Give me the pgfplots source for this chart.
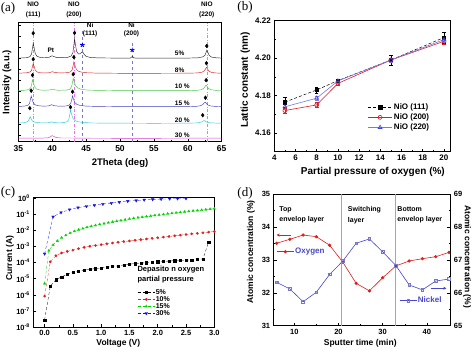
\documentclass[border=0pt]{standalone}
\usepackage{fontspec}
\setmainfont{Liberation Sans}
\newfontfamily\seriffont{Liberation Serif}
\usepackage{pgfplots}
\pgfplotsset{compat=1.18}
\usetikzlibrary{arrows.meta}
\definecolor{cMag}{RGB}{230,120,230}
\definecolor{cNi}{RGB}{120,120,200}
\definecolor{tBlack}{RGB}{40,40,40}
\definecolor{tRed}{RGB}{220,30,30}
\definecolor{tGreen}{RGB}{70,200,70}
\definecolor{tBlue}{RGB}{60,60,190}
\definecolor{tCyan}{RGB}{40,200,215}
\definecolor{tMag}{RGB}{215,60,215}
\definecolor{cGreen}{RGB}{0,210,0}
\definecolor{cBlue}{RGB}{20,20,220}
\definecolor{lav}{RGB}{120,120,230}
\definecolor{niBlue}{RGB}{70,70,200}
\newcommand\fsz[2]{\bfseries\fontsize{#1}{#2}\selectfont}
\pgfplotsset{
  base/.style={scale only axis, anchor=south west, tick align=inside,
    /pgf/number format/assume math mode=true,
    axis line style={line width=0.6pt}, major tick length=3pt, minor tick length=1.6pt,
    every tick/.style={black, line width=0.5pt}, legend cell align=left, clip=false},
}
\begin{document}
\begin{tikzpicture}[x=1pt,y=1pt]
\path[use as bounding box] (0,0) rectangle (474,350);
\node[font=\seriffont\fontsize{13}{13}\selectfont] at (8,342) {(a)};
\node[font=\seriffont\fontsize{13}{13}\selectfont] at (245,343) {(b)};
\node[font=\seriffont\fontsize{13}{13}\selectfont] at (8,158) {(c)};
\node[font=\seriffont\fontsize{13}{13}\selectfont] at (245,157) {(d)};

% ---------------- (a) ----------------
\begin{axis}[base, at={(18.3pt,208.3pt)}, width=203.4pt, height=119pt,
  xmin=35, xmax=65, ymin=0, ymax=119,
  xtick={35,40,...,65}, minor x tick num=1, xtick pos=left, ytick pos=left,
  ytick={6.7,17.7,28.7,39.7,50.7,61.7,72.7,83.7,94.7,105.7,116.7}, yticklabel={\mbox{}},
  tick label style={font=\fsz{8.5}{9}},
  label style={font=\fsz{9.5}{10}},
  xlabel={2Theta (deg)}, ylabel={Intensity (a.u.)},
  xlabel style={at={(axis description cs:0.5,-0.179)}, anchor=center},
  ylabel style={at={(axis description cs:-0.0556,0.5)}, anchor=center}]
% reference lines
\addplot[cMag, dash dot, line width=0.5pt] coordinates {(37.2,0) (37.2,119)};
\addplot[cMag, dash dot, line width=0.5pt] coordinates {(43.2,0) (43.2,119)};
\addplot[cMag, dash dot, line width=0.5pt] coordinates {(62.8,0) (62.8,119)};
\addplot[cNi, dashed, line width=0.5pt] coordinates {(44.45,0) (44.45,112)};
\addplot[cNi, dashed, line width=0.5pt] coordinates {(51.8,0) (51.8,100)};
% 5%
\addplot[tBlack, line width=0.45pt] coordinates {(35,83.6) (35.8,83.8) (36.2,84.0) (36.7,84.9) (36.95,87.6) (37.1,93.9) (37.2,98.4) (37.32,94.4) (37.5,88.2) (37.75,85.5) (38.2,84.3) (38.8,83.9) (39.5,84.2) (39.8,85.4) (40.0,85.9) (40.3,85.0) (40.7,84.1) (41.5,84.0) (42.3,84.4) (42.8,85.7) (43.05,88.9) (43.2,96.9) (43.3,102.9) (43.42,97.4) (43.6,90.4) (43.85,87.9) (44.1,87.9) (44.35,89.4) (44.5,89.7) (44.7,87.4) (45.0,85.4) (45.5,84.4) (46.5,83.9) (48,83.7) (50,83.6) (51.5,83.6) (51.7,84.6) (51.85,85.3) (52.0,83.9) (52.3,83.6) (55,83.5) (58,83.5) (60,83.6) (61.5,83.9) (62.2,84.8) (62.55,86.6) (62.7,89.4) (62.8,91.4) (62.95,89.4) (63.15,86.4) (63.5,84.6) (64.2,83.9) (65,83.6)};
% 8%
\addplot[tRed, line width=0.45pt] coordinates {(35,68.5) (36.2,68.9) (36.7,69.6) (36.95,71.2) (37.1,75.4) (37.2,78.4) (37.32,75.8) (37.5,71.6) (37.75,69.8) (38.2,69.0) (38.8,68.7) (39.6,69.0) (40.0,70.0) (40.4,69.2) (41.0,68.8) (42.2,69.0) (42.7,69.8) (42.95,72.0) (43.1,76.5) (43.2,79.9) (43.33,76.8) (43.55,72.5) (43.85,70.5) (44.3,69.6) (45.0,69.0) (46.5,68.6) (50,68.4) (55,68.4) (60,68.5) (61.5,68.8) (62.1,69.5) (62.45,71.0) (62.62,72.8) (62.75,74.4) (62.9,72.8) (63.1,70.6) (63.5,69.3) (64.2,68.7) (65,68.5)};
% 10%
\addplot[tGreen, line width=0.45pt] coordinates {(35,51.1) (36.1,51.5) (36.6,52.3) (36.85,54.0) (37.0,58.5) (37.1,61.7) (37.22,59.0) (37.4,55.0) (37.65,52.8) (38.1,51.8) (38.8,51.4) (39.6,51.7) (40.0,52.5) (40.4,51.8) (41.0,51.4) (42.1,51.6) (42.6,52.4) (42.85,55.0) (43.0,59.5) (43.1,63.4) (43.23,60.2) (43.45,55.8) (43.75,53.8) (44.2,52.6) (45.0,51.7) (46.5,51.3) (50,51.1) (55,51.0) (60,51.1) (61.4,51.4) (62.0,52.0) (62.35,53.5) (62.55,55.2) (62.7,56.7) (62.85,55.3) (63.05,53.2) (63.45,51.9) (64.2,51.3) (65,51.1)};
% 15%
\addplot[tBlue, line width=0.45pt] coordinates {(35,35.2) (35.9,35.6) (36.4,36.4) (36.65,38.0) (36.8,42.5) (36.9,45.7) (37.02,43.0) (37.2,39.2) (37.45,37.0) (37.9,36.0) (38.7,35.5) (39.5,35.8) (39.9,37.0) (40.3,36.0) (41.0,35.5) (42.0,35.7) (42.5,36.5) (42.75,38.7) (42.9,42.5) (43.0,45.7) (43.13,42.8) (43.35,39.0) (43.65,37.3) (44.1,36.3) (45.0,35.6) (46.5,35.3) (50,35.1) (55,35.0) (60,35.1) (61.3,35.4) (61.9,36.0) (62.2,37.2) (62.4,38.6) (62.55,39.7) (62.7,38.6) (62.9,36.9) (63.3,35.8) (64.0,35.3) (65,35.1)};
% 20%
\addplot[tCyan, line width=0.45pt] coordinates {(35,18.6) (35.8,19.0) (36.25,19.7) (36.5,20.8) (36.65,23.2) (36.75,25.0) (36.87,23.4) (37.05,21.0) (37.3,19.8) (37.8,19.1) (38.6,18.8) (39.5,19.0) (39.9,19.8) (40.3,19.1) (41.0,18.8) (41.7,19.1) (42.2,20.0) (42.45,22.2) (42.6,27.3) (42.7,31.7) (42.83,28.2) (43.05,23.5) (43.35,21.2) (43.8,20.0) (44.6,19.2) (46,18.7) (50,18.5) (55,18.4) (60,18.5) (61.4,18.8) (62.0,19.6) (62.25,20.5) (62.4,21.2) (62.55,20.5) (62.8,19.5) (63.3,18.9) (64.2,18.6) (65,18.5)};
% 30%
\addplot[tMag, line width=0.45pt] coordinates {(35,3.5) (37,3.6) (38.5,3.6) (39.4,3.9) (39.75,5.0) (40.0,6.1) (40.25,5.2) (40.6,4.1) (41.3,3.7) (43,3.7) (44,3.5) (50,3.4) (55,3.4) (60,3.5) (62.5,3.6) (65,3.5)};
% markers
\addplot[only marks, mark=diamond*, mark size=1.9pt, black] coordinates {(37.2,108.5) (43.3,108.8) (62.8,95.7) (37.2,82.5) (43.2,84.5) (62.75,78.5) (37.1,66.5) (43.1,67.5) (62.7,61.5) (36.9,51) (43.0,50) (62.6,44) (36.7,33.5) (42.7,34.5) (62.2,26.5)};
\addplot[only marks, mark=star, mark size=2.4pt, blue, line width=0.9pt] coordinates {(44.45,96.7) (51.8,91.7)};
\node[font=\fsz{6.5}{9.5}, align=center] at (axis cs:37.2,131.9) {NIO\\(111)};
\node[font=\fsz{6.5}{9.5}, align=center] at (axis cs:43.2,131.9) {NIO\\(200)};
\node[font=\fsz{6.5}{9.5}, align=center] at (axis cs:62.8,131.9) {NIO\\(220)};
\node[font=\fsz{6.5}{7.5}, align=center] at (axis cs:45.6,112) {Ni\\(111)};
\node[font=\fsz{6.5}{7.5}, align=center] at (axis cs:51.7,112) {Ni\\(200)};
\node[font=\fsz{6.5}{8}] at (axis cs:39.8,91.7) {Pt};
\node[font=\fsz{6.5}{8}] at (axis cs:58.8,88.4) {5\%};
\node[font=\fsz{6.5}{8}] at (axis cs:58.8,71.7) {8\%};
\node[font=\fsz{6.5}{8}] at (axis cs:59.2,55) {10 \%};
\node[font=\fsz{6.5}{8}] at (axis cs:59.2,38.4) {15 \%};
\node[font=\fsz{6.5}{8}] at (axis cs:59.2,21.7) {20 \%};
\node[font=\fsz{6.5}{8}] at (axis cs:59.2,6.7) {30 \%};
\end{axis}

% ---------------- (b) ----------------
\begin{axis}[base, at={(274.3pt,198.3pt)}, width=176pt, height=131pt,
  xmin=4, xmax=20.6, ymin=4.15, ymax=4.22,
  xtick={4,6,...,20}, minor x tick num=1, ytick={4.16,4.18,4.20,4.22}, minor y tick num=1,
  xtick pos=left, ytick pos=left,
  yticklabel style={/pgf/number format/.cd, fixed, fixed zerofill, precision=2},
  tick label style={font=\fsz{8}{9}},
  label style={font=\fsz{10}{11}},
  xlabel={Partial pressure of oxygen (\%)}, ylabel={Lattic constant (nm)},
  xlabel style={at={(axis description cs:0.56,-0.153)}, anchor=center},
  ylabel style={at={(axis description cs:-0.165,0.547)}, anchor=center},
  legend style={at={(rel axis cs:0.53,0.38)}, anchor=north west, draw=none, fill=none, font=\fsz{8}{9}, row sep=-0.5pt, inner sep=0pt, nodes={inner sep=1.6pt}},
  legend image code/.code={\draw[mark repeat=2,mark phase=2,#1] plot coordinates {(0pt,0pt) (12pt,0pt) (24pt,0pt)};}]
\addplot[black, densely dashed, line width=0.5pt, mark=square*, mark size=1.7pt, mark options={solid, fill=black},
  error bars/.cd, y dir=both, y explicit, error bar style={solid, line width=0.5pt}] coordinates {
  (5,4.1765) +- (0,0.0028) (8,4.183) +- (0,0.0015) (10,4.188) +- (0,0.001) (15,4.199) +- (0,0.0028) (20,4.211) +- (0,0.0028)};
\addlegendentry{NiO (111)}
\addplot[tRed, line width=0.6pt, mark=o, mark size=2pt, mark options={fill=white},
  error bars/.cd, y dir=both, y explicit] coordinates {
  (5,4.172) +- (0,0.0012) (8,4.175) +- (0,0.0012) (10,4.1865) +- (0,0.001) (15,4.199) +- (0,0.001) (20,4.209) +- (0,0.0015)};
\addlegendentry{NiO (200)}
\addplot[lav, line width=0.6pt, mark=triangle, mark size=2.2pt, mark options={fill=white, draw=cBlue!80},
  error bars/.cd, y dir=both, y explicit] coordinates {
  (5,4.174) +- (0,0.0012) (8,4.1786) +- (0,0.0012) (10,4.1878) +- (0,0.001) (15,4.199) +- (0,0.001) (20,4.2099) +- (0,0.0015)};
\addlegendentry{NiO (220)}
\end{axis}

% ---------------- (c) ----------------
\begin{axis}[base, at={(33.3pt,23pt)}, width=181pt, height=129.5pt,
  xmin=-0.2, xmax=3.0, ymin=-8, ymax=0.05,
  xtick={0,0.5,...,3.0}, minor x tick num=1, xtick pos=left, ytick pos=left,
  xticklabel style={/pgf/number format/.cd, fixed, fixed zerofill, precision=1},
  ytick={-8,-7,-6,-5,-4,-3,-2,-1,0},
  yticklabels={10\textsuperscript{-8},10\textsuperscript{-7},10\textsuperscript{-6},10\textsuperscript{-5},10\textsuperscript{-4},10\textsuperscript{-3},10\textsuperscript{-2},10\textsuperscript{-1},10\textsuperscript{0}},
  tick label style={font=\fsz{7.5}{8}},
  label style={font=\fsz{8.5}{9}},
  xlabel={Voltage (V)}, ylabel={Current (A)},
  xlabel style={at={(axis description cs:0.47,-0.126)}, anchor=center},
  ylabel style={at={(axis description cs:-0.129,0.53)}, anchor=center},
  legend style={at={(rel axis cs:0.575,0.30)}, anchor=north west, draw=none, fill=none, font=\fsz{7}{7}, row sep=-1.2pt, inner sep=0pt, nodes={inner sep=0.9pt}}]
\addplot[black, densely dashed, line width=0.3pt, mark=square*, mark size=1.1pt, mark options={solid}] coordinates {
(0,-7.55) (0.1,-5.47) (0.2,-5.06) (0.3,-4.88) (0.4,-4.72) (0.5,-4.6) (0.6,-4.52) (0.7,-4.46) (0.8,-4.41) (0.9,-4.37) (1.0,-4.33) (1.1,-4.28) (1.2,-4.24) (1.3,-4.2) (1.4,-4.14) (1.5,-4.09) (1.6,-4.06) (1.7,-4.03) (1.8,-4.0) (1.9,-3.97) (2.0,-3.94) (2.1,-3.92) (2.2,-3.9) (2.3,-3.88) (2.4,-3.86) (2.5,-3.84) (2.6,-3.82) (2.7,-3.8) (2.8,-3.77) (2.9,-2.72)};
\addlegendentry{5\%}
\addplot[tRed, densely dashed, line width=0.3pt, mark=*, mark size=1.2pt, mark options={solid}] coordinates {
(0,-6.08) (0.1,-3.95) (0.2,-3.57) (0.3,-3.4) (0.4,-3.3) (0.5,-3.22) (0.6,-3.13) (0.7,-3.05) (0.8,-2.98) (0.9,-2.93) (1.0,-2.88) (1.1,-2.83) (1.2,-2.78) (1.3,-2.73) (1.4,-2.69) (1.5,-2.65) (1.6,-2.61) (1.7,-2.57) (1.8,-2.53) (1.9,-2.49) (2.0,-2.45) (2.1,-2.41) (2.2,-2.37) (2.3,-2.33) (2.4,-2.29) (2.5,-2.25) (2.6,-2.21) (2.7,-2.18) (2.8,-2.14) (2.9,-2.1) (3.0,-2.07)};
\addlegendentry{10\%}
\addplot[cGreen, densely dashed, line width=0.3pt, mark=triangle*, mark size=1.4pt, mark options={solid}] coordinates {
(0,-5.3) (0.075,-3.25) (0.15,-2.9) (0.225,-2.65) (0.3,-2.45) (0.375,-2.3) (0.45,-2.16) (0.525,-2.05) (0.6,-1.96) (0.675,-1.88) (0.75,-1.8) (0.825,-1.74) (0.9,-1.68) (0.975,-1.62) (1.05,-1.57) (1.125,-1.52) (1.2,-1.47) (1.275,-1.42) (1.35,-1.38) (1.425,-1.33) (1.5,-1.28) (1.575,-1.24) (1.65,-1.2) (1.725,-1.17) (1.8,-1.13) (1.875,-1.1) (1.95,-1.06) (2.025,-1.03) (2.1,-1.0) (2.175,-0.96) (2.25,-0.93) (2.325,-0.9) (2.4,-0.87) (2.475,-0.84) (2.55,-0.81) (2.625,-0.78) (2.7,-0.76) (2.775,-0.73) (2.85,-0.7) (2.925,-0.67) (3.0,-0.64)};
\addlegendentry{15\%}
\addplot[cBlue, densely dashed, line width=0.3pt, mark=triangle*, mark size=1.6pt, mark options={solid, rotate=180}] coordinates {
(0,-3.45) (0.15,-1.15) (0.29,-0.88) (0.44,-0.7) (0.59,-0.58) (0.74,-0.5) (0.88,-0.43) (1.03,-0.36) (1.18,-0.3) (1.32,-0.24) (1.47,-0.18) (1.62,-0.14) (1.76,-0.1) (1.91,-0.07) (2.06,-0.05) (2.21,-0.03) (2.35,-0.02) (2.5,-0.01)};
\addlegendentry{30\%}
\node[font=\fsz{7.5}{9.5}, align=left, anchor=north west, inner sep=0pt] at (rel axis cs:0.575,0.47) {Depasito n oxygen\\partial pressure};
\end{axis}

% ---------------- (d) ----------------
\begin{axis}[base, at={(273.7pt,24.3pt)}, width=176.6pt, height=131.4pt,
  xmin=5.35, xmax=45.3, ymin=31, ymax=35,
  xtick={10,20,30,40}, minor x tick num=1, ytick={31,32,33,34,35}, minor y tick num=1,
  xtick pos=left, ytick pos=left,
  tick label style={font=\fsz{7.5}{8}},
  label style={font=\fsz{8.5}{9}},
  xlabel={Sputter time (min)}, ylabel={Atomic concentration (\%)},
  xlabel style={at={(axis description cs:0.49,-0.134)}, anchor=center},
  ylabel style={at={(axis description cs:-0.129,0.563)}, anchor=center},
  legend style={at={(rel axis cs:0.015,0.563)}, anchor=west, draw=none, fill=none, font=\fsz{8}{9}, inner sep=0pt, nodes={inner sep=1pt}}]
\addplot[gray!70, line width=0.5pt, forget plot] coordinates {(20.6,31) (20.6,35)};
\addplot[gray!70, line width=0.5pt, forget plot] coordinates {(32.8,31) (32.8,35)};
\addplot[tRed, line width=0.6pt, mark=*, mark size=1.3pt] coordinates {(6,33.51) (9,33.63) (12,33.76) (15,33.71) (18,33.45) (21,32.93) (24,32.29) (27,32.06) (30,32.46) (33,32.82) (36,32.97) (39,33.04) (42,33.1) (45,33.23)};
\addlegendentry{\textcolor{niBlue}{Oxygen}}
\draw[tRed, line width=0.6pt, -{Stealth[length=3pt,width=3pt]}] (axis cs:9.3,33.76) -- (axis cs:6.0,33.76);
\node[font=\fsz{7}{10.4}, align=left, anchor=north west, inner sep=0pt] at (axis cs:6.6,34.63) {Top\\envelop layer};
\node[font=\fsz{7}{10.4}, align=left, anchor=north west, inner sep=0pt] at (axis cs:22.1,34.63) {Switching\\layer};
\node[font=\fsz{7}{10.4}, align=left, anchor=north west, inner sep=0pt] at (axis cs:33.3,34.63) {Bottom\\envelop layer};
\end{axis}
\begin{axis}[base, at={(273.7pt,24.3pt)}, width=176.6pt, height=131.4pt,
  xmin=5.35, xmax=45.3, ymin=65, ymax=69,
  axis x line=none, axis y line*=right, ytick={65,66,67,68,69}, minor y tick num=1,
  tick label style={font=\fsz{7.5}{8}},
  label style={font=\fsz{8.5}{9}},
  ylabel={Atomic concentration (\%)},
  ylabel style={at={(axis description cs:1.095,0.525)}, anchor=center, rotate=180},
  legend style={at={(rel axis cs:0.71,0.19)}, anchor=west, draw=none, fill=none, font=\fsz{8}{9}, inner sep=0pt, nodes={inner sep=1pt}}]
\addplot[niBlue, line width=0.6pt, mark=square, mark size=1.3pt, mark options={fill=white, draw=cNi}] coordinates {(6,66.32) (9,66.12) (12,65.73) (15,66.02) (18,66.56) (21,66.97) (24,67.51) (27,67.64) (30,67.25) (33,66.83) (36,66.24) (39,66.09) (42,66.36) (45,66.42)};
\addlegendentry{\textcolor{niBlue}{Nickel}}
\draw[niBlue, line width=0.6pt, -{Stealth[length=3pt,width=3pt]}] (axis cs:41,66.14) -- (axis cs:44.4,66.14);
\end{axis}
\end{tikzpicture}
\end{document}
